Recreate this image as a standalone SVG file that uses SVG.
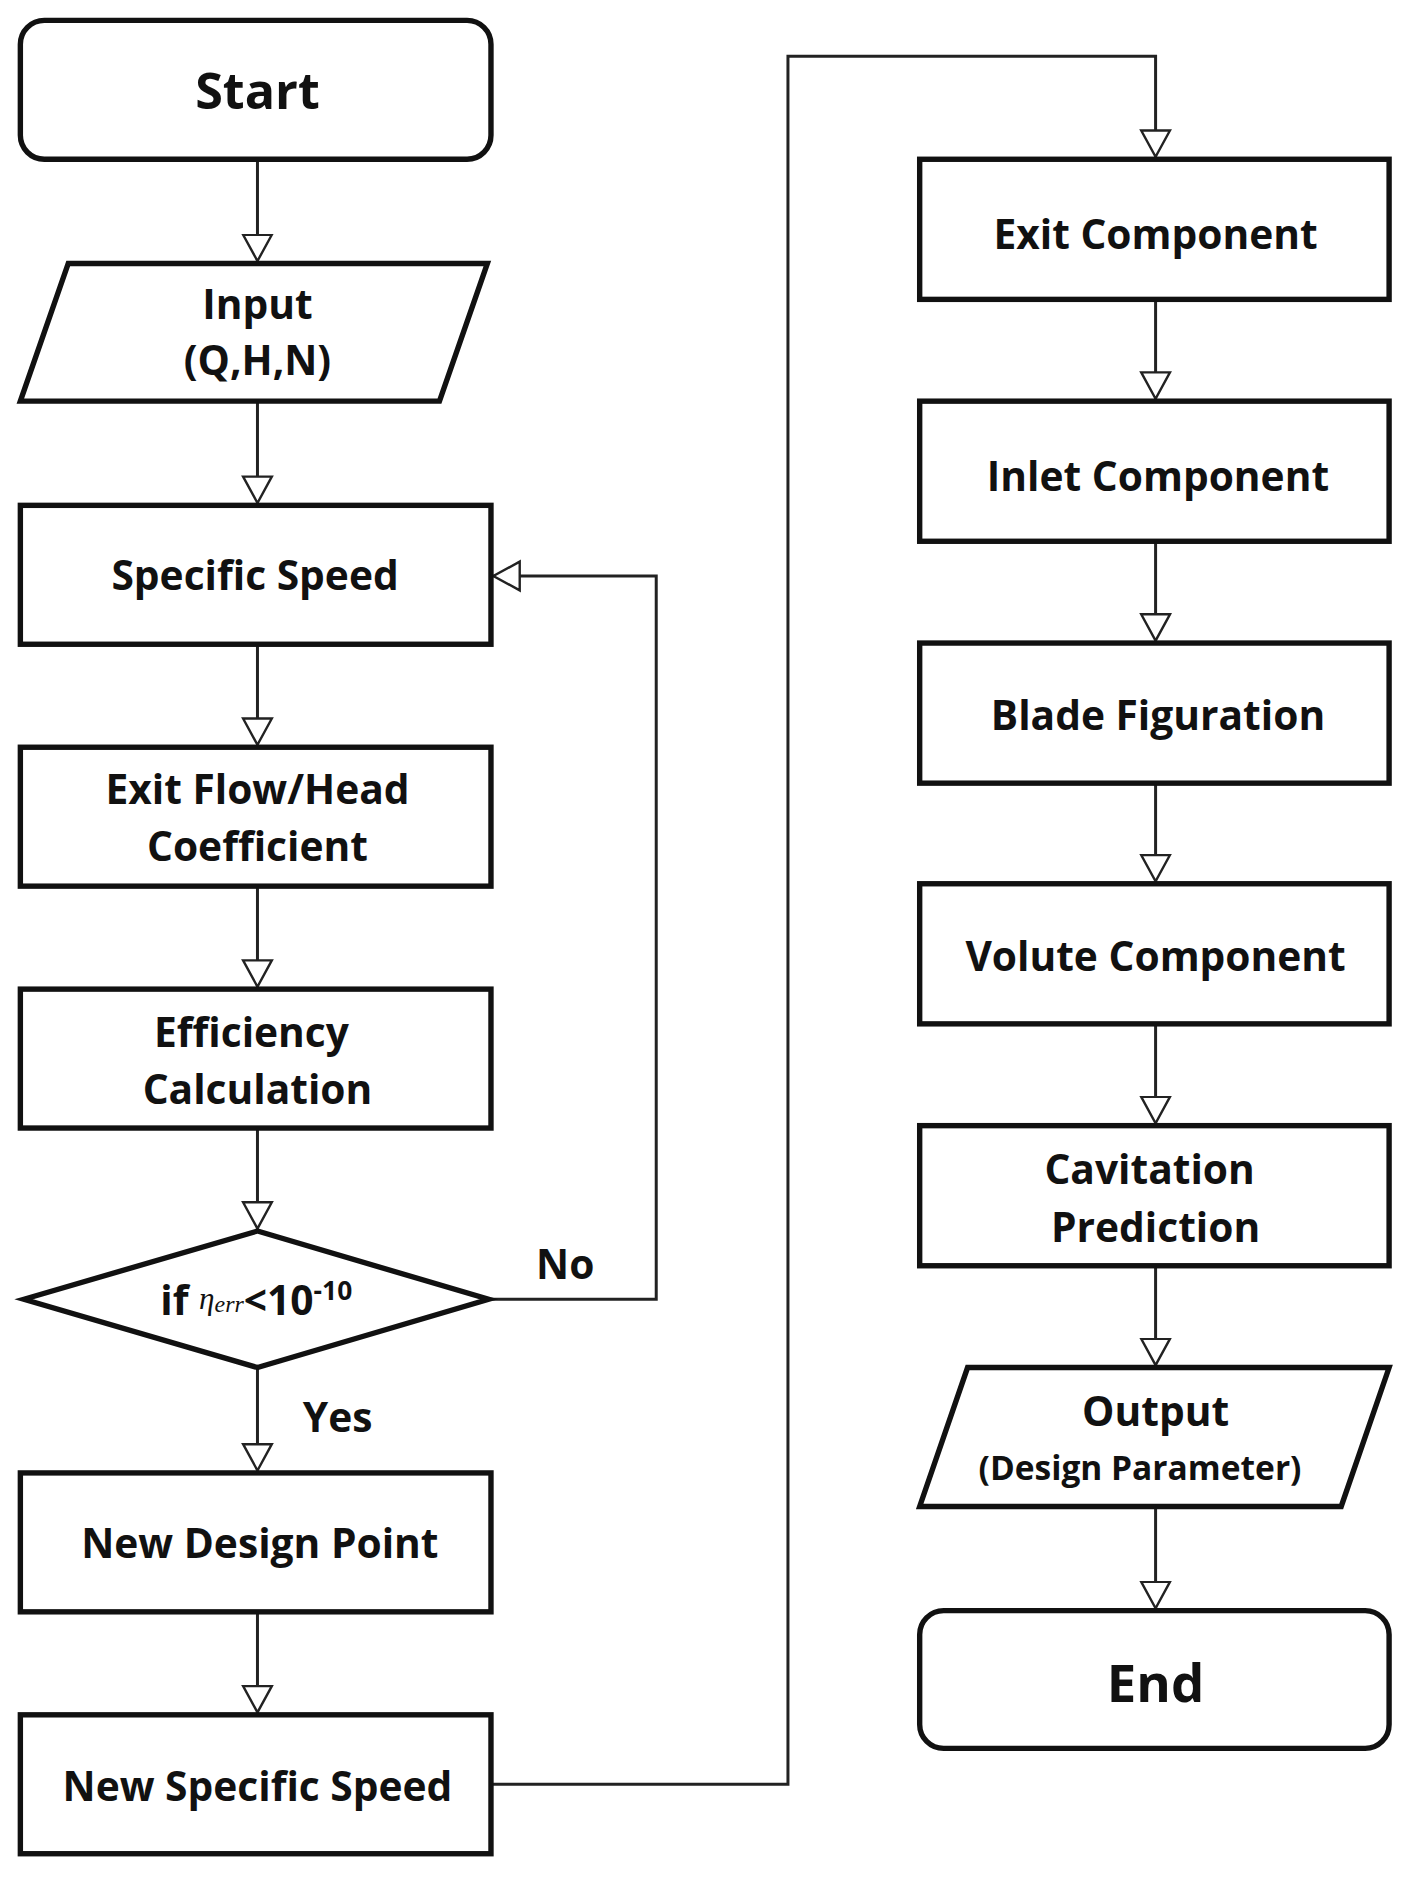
<svg xmlns="http://www.w3.org/2000/svg" width="1419" height="1887" viewBox="0 0 1419 1887">
<defs>
<marker id="ah" markerUnits="userSpaceOnUse" markerWidth="30" markerHeight="30" refX="23" refY="13" orient="auto" viewBox="0 0 30 26">
<path d="M1,1 L23,13 L1,25 Z" fill="#fff" stroke="#222" stroke-width="2"/>
</marker>
<style>
.b{fill:#fff;stroke:#111;stroke-width:4.5}
.t{font-family:"Open Sans","DejaVu Sans",sans-serif;font-weight:700;font-size:34px;fill:#111;text-anchor:middle}
.c{fill:none;stroke:#222;stroke-width:2.5}
</style>
</defs>
<rect width="1419" height="1887" fill="#fff"/>
<g transform="scale(1.1975)">
<g id="connectors">
<path class="c" d="M215,133 V218" marker-end="url(#ah)"/>
<path class="c" d="M215,335 V420" marker-end="url(#ah)"/>
<path class="c" d="M215,538 V622" marker-end="url(#ah)"/>
<path class="c" d="M215,740 V824" marker-end="url(#ah)"/>
<path class="c" d="M215,942 V1026" marker-end="url(#ah)"/>
<path class="c" d="M215,1142 V1228" marker-end="url(#ah)"/>
<path class="c" d="M215,1346 V1430" marker-end="url(#ah)"/>
<path class="c" d="M408,1085 H548 V481 H412" marker-end="url(#ah)"/>
<path class="c" d="M410,1490 H658 V47 H965 V131" marker-end="url(#ah)"/>
<path class="c" d="M965,250 V333" marker-end="url(#ah)"/>
<path class="c" d="M965,452 V535" marker-end="url(#ah)"/>
<path class="c" d="M965,654 V736" marker-end="url(#ah)"/>
<path class="c" d="M965,855 V938" marker-end="url(#ah)"/>
<path class="c" d="M965,1057 V1140" marker-end="url(#ah)"/>
<path class="c" d="M965,1258 V1343" marker-end="url(#ah)"/>
<text class="t" x="472" y="1068">No</text>
<text class="t" x="282" y="1196">Yes</text>
</g>
<g id="start"><rect class="b" x="17" y="17" width="393" height="116" rx="20"/><text class="t" x="215" y="91" style="font-size:42px">Start</text></g>
<g id="input"><path class="b" d="M57,220 H407 L367,335 H17 Z"/><text class="t" x="215" y="266">Input</text><text class="t" x="215" y="313">(Q,H,N)</text></g>
<g id="specific-speed"><rect class="b" x="17" y="422" width="393" height="116"/><text class="t" x="213" y="493">Specific Speed</text></g>
<g id="exit-flow"><rect class="b" x="17" y="624" width="393" height="116"/><text class="t" x="215" y="671">Exit Flow/Head</text><text class="t" x="215" y="719">Coefficient</text></g>
<g id="efficiency"><rect class="b" x="17" y="826" width="393" height="116"/><text class="t" x="210" y="874">Efficiency</text><text class="t" x="215" y="922">Calculation</text></g>
<g id="decision"><path class="b" d="M20,1085 L215,1028 L408,1085 L215,1142 Z"/>
<text class="t" x="214" y="1098">if <tspan font-family="Liberation Serif,serif" font-style="italic" font-weight="400" font-size="26" dy="-5">η</tspan><tspan font-family="Liberation Serif,serif" font-style="italic" font-weight="400" font-size="20" dy="3">err</tspan><tspan dy="2">&lt;10</tspan><tspan font-size="22" dy="-12">-10</tspan></text></g>
<g id="new-design-point"><rect class="b" x="17" y="1230" width="393" height="116"/><text class="t" x="217" y="1301">New Design Point</text></g>
<g id="new-specific-speed"><rect class="b" x="17" y="1432" width="393" height="116"/><text class="t" x="215" y="1504">New Specific Speed</text></g>
<g id="exit-component"><rect class="b" x="768" y="133" width="392" height="117"/><text class="t" x="965" y="208">Exit Component</text></g>
<g id="inlet-component"><rect class="b" x="768" y="335" width="392" height="117"/><text class="t" x="967" y="410">Inlet Component</text></g>
<g id="blade-figuration"><rect class="b" x="768" y="537" width="392" height="117"/><text class="t" x="967" y="610">Blade Figuration</text></g>
<g id="volute-component"><rect class="b" x="768" y="738" width="392" height="117"/><text class="t" x="965" y="811">Volute Component</text></g>
<g id="cavitation"><rect class="b" x="768" y="940" width="392" height="117"/><text class="t" x="960" y="989">Cavitation</text><text class="t" x="965" y="1037">Prediction</text></g>
<g id="output"><path class="b" d="M808,1142 H1160 L1120,1258 H768 Z"/><text class="t" x="965" y="1191">Output</text><text class="t" x="952" y="1236" style="font-size:28px">(Design Parameter)</text></g>
<g id="end"><rect class="b" x="768" y="1345" width="392" height="115" rx="20"/><text class="t" x="965" y="1421" style="font-size:44px">End</text></g>
</g>
</svg>
